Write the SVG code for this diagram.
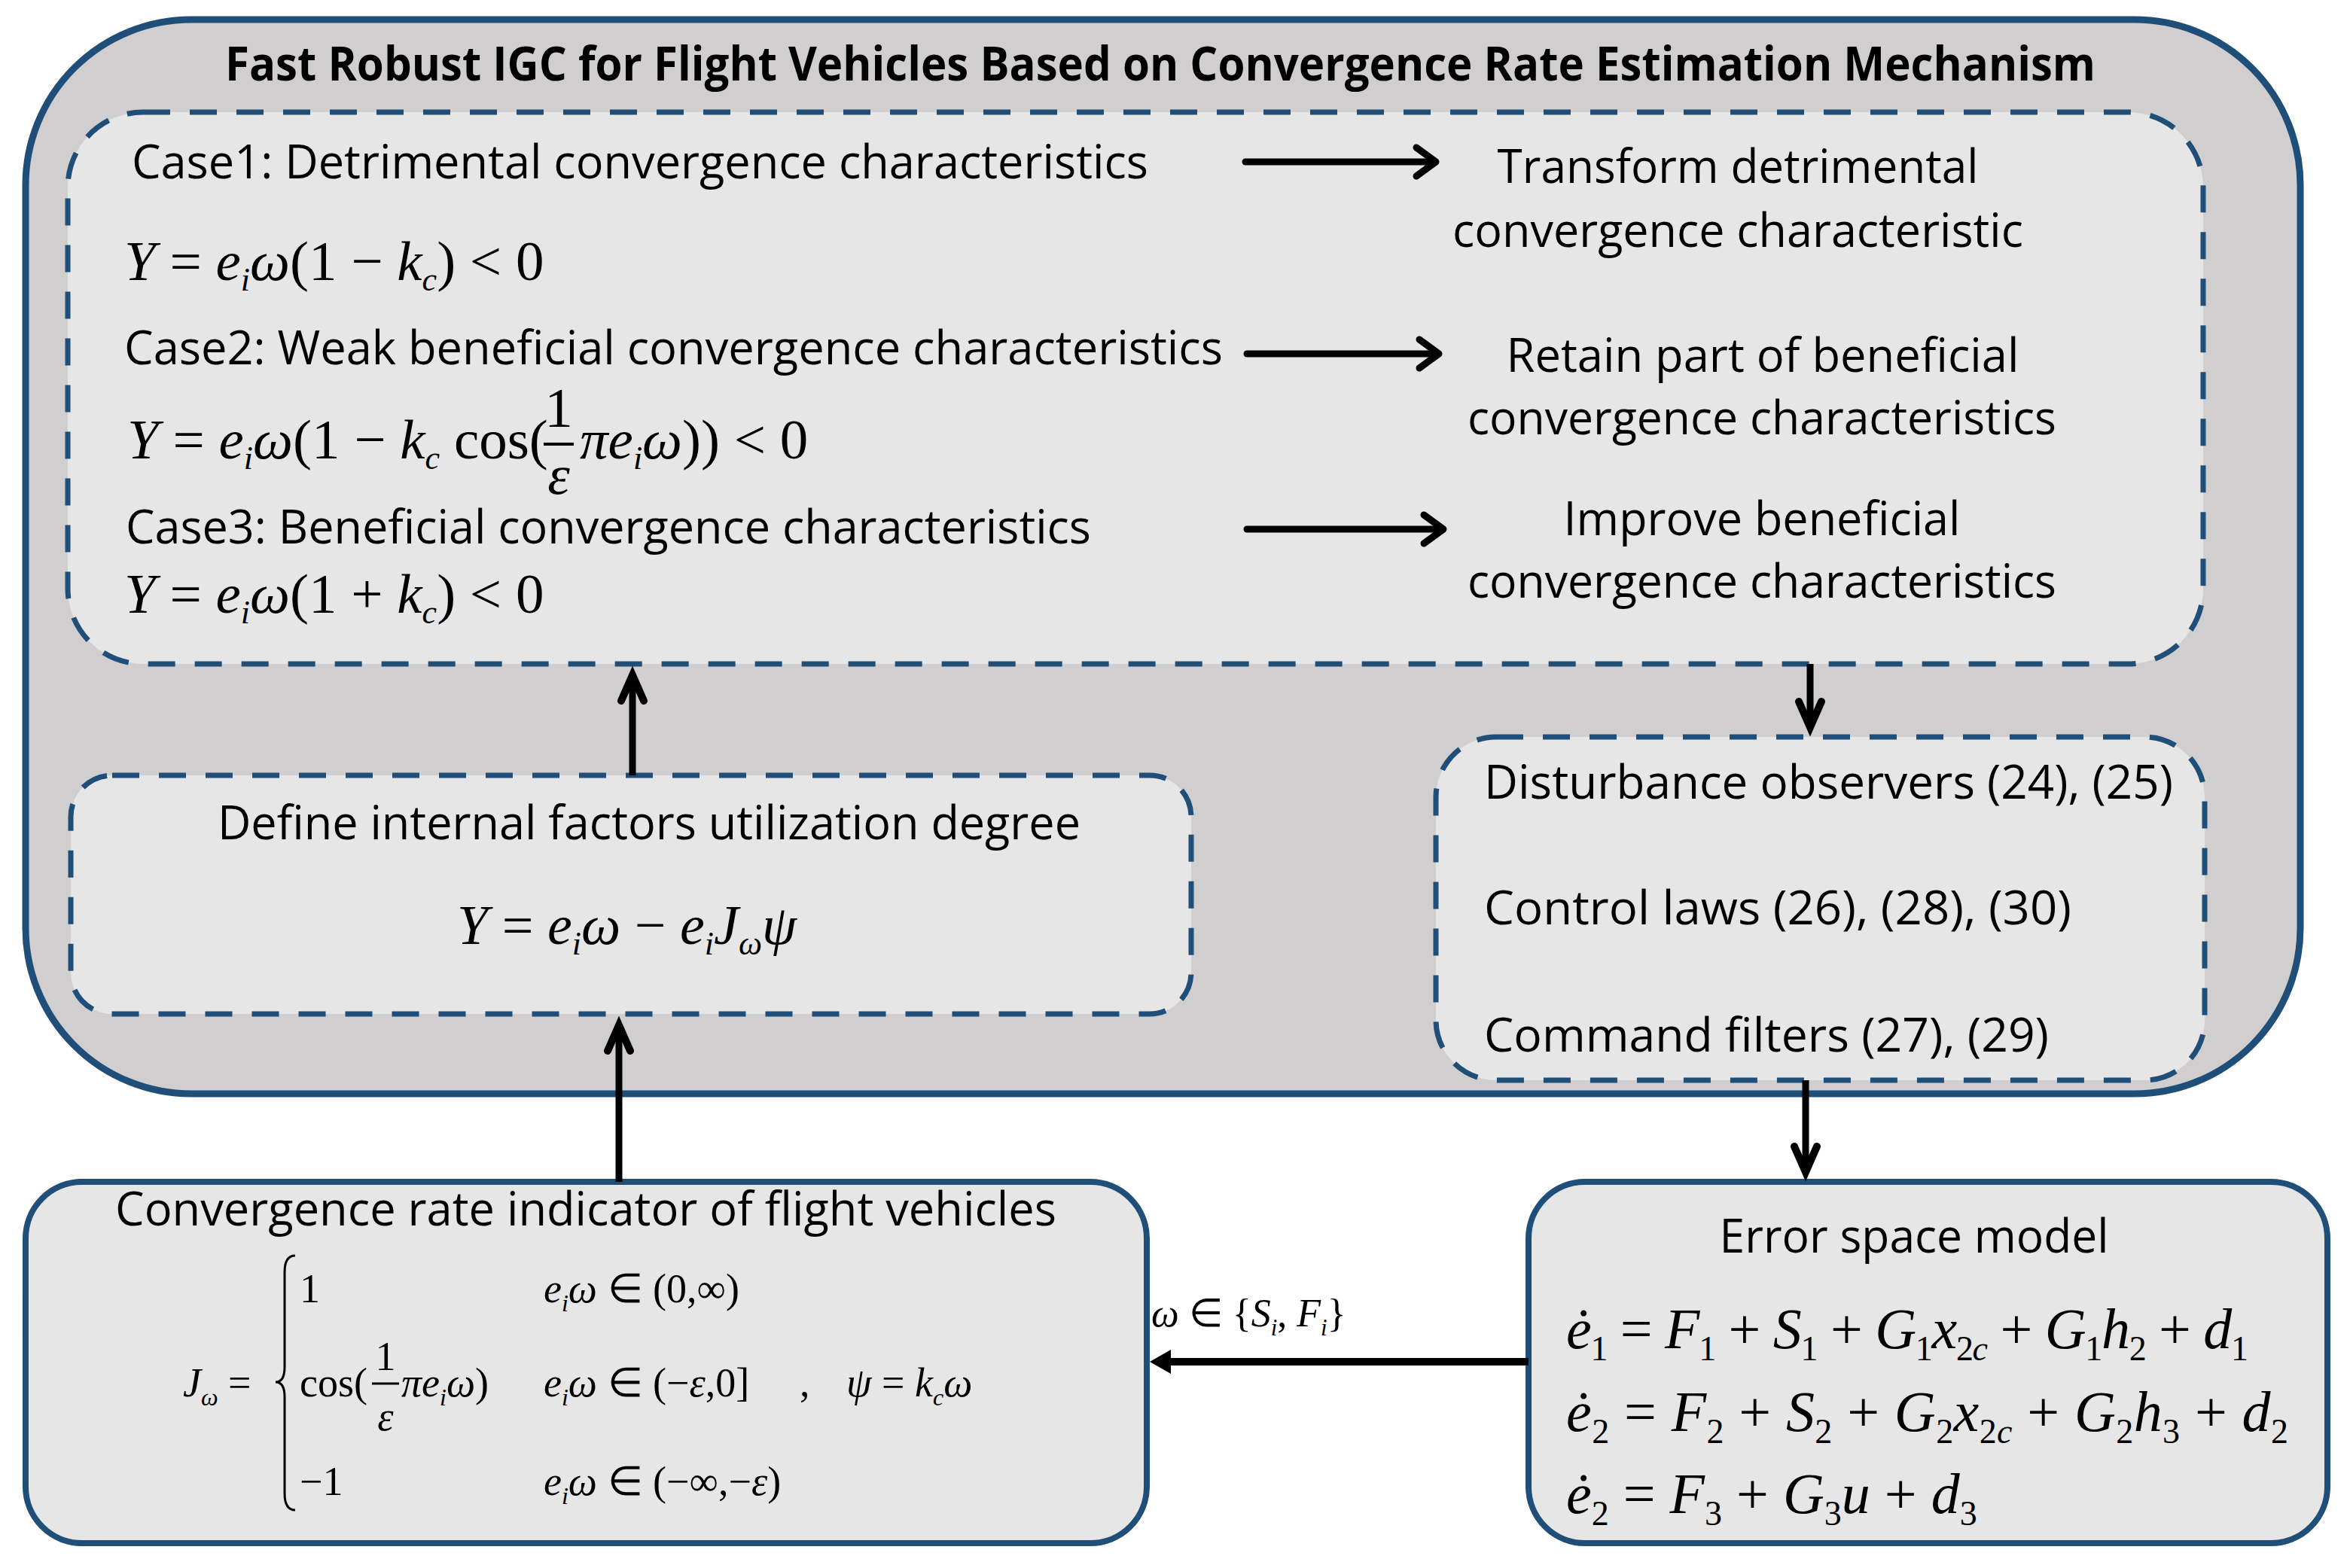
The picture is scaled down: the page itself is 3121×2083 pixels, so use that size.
<svg xmlns="http://www.w3.org/2000/svg" width="3121" height="2083" viewBox="0 0 3121 2083">
<defs>
<style>
.t{font-family:"Open Sans","Liberation Sans",sans-serif;font-size:62px;fill:#000}
.b{font-weight:bold}
.m{font-family:"Liberation Serif","Times New Roman",serif;fill:#000}
.i{font-style:italic}
.dash{fill:#E7E6E6;stroke:#1F4E79;stroke-width:7;stroke-dasharray:36 26}
.solid{fill:#E7E6E6;stroke:#1F4E79;stroke-width:8}
.ln{stroke:#000;stroke-width:9;fill:none}
.chev{stroke:#000;stroke-width:9;fill:none;stroke-linecap:round;stroke-linejoin:round}
</style>
<marker id="st" markerUnits="userSpaceOnUse" viewBox="-50 -30 80 60" refX="0" refY="0" markerWidth="80" markerHeight="60" orient="auto" overflow="visible">
<polyline points="-34,-15 0,0 -34,15" fill="none" stroke="#000" stroke-width="10" stroke-linecap="round" stroke-linejoin="miter" stroke-miterlimit="6"/>
<path d="M0,0 L-22,-8 L-22,8 Z" fill="#000"/>
</marker>
<marker id="tri" markerUnits="userSpaceOnUse" viewBox="-4 -18 34 36" refX="0" refY="0" markerWidth="34" markerHeight="36" orient="auto">
<path d="M28,0 L0,-16 L0,16 Z" fill="#000"/>
</marker>
</defs>
<rect width="3121" height="2083" fill="#fff"/>

<g id="outer">
<rect x="34" y="26" width="3021" height="1427" rx="220" ry="220" fill="#D0CECE" stroke="#1F4E79" stroke-width="9"/>
<text class="t b" x="1541" y="107" text-anchor="middle" textLength="2484" lengthAdjust="spacingAndGlyphs">Fast Robust IGC for Flight Vehicles Based on Convergence Rate Estimation Mechanism</text>
</g>

<g id="cases">
<rect class="dash" x="90" y="149" width="2836" height="733" rx="100" ry="100"/>
<text class="t" x="175" y="237" textLength="1350" lengthAdjust="spacingAndGlyphs">Case1: Detrimental convergence characteristics</text>
<text class="m" x="165" y="372" font-size="75"><tspan class="i">Y</tspan> = <tspan class="i">e</tspan><tspan class="i" font-size="44" dy="14">i</tspan><tspan class="i" dy="-14">ω</tspan>(1 − <tspan class="i">k</tspan><tspan class="i" font-size="44" dy="14">c</tspan><tspan dy="-14">) &lt; 0</tspan></text>
<text class="t" x="165" y="484" textLength="1459" lengthAdjust="spacingAndGlyphs">Case2: Weak beneficial convergence characteristics</text>
<text class="m" x="169" y="609" font-size="75"><tspan class="i">Y</tspan> = <tspan class="i">e</tspan><tspan class="i" font-size="44" dy="14">i</tspan><tspan class="i" dy="-14">ω</tspan>(1 − <tspan class="i">k</tspan><tspan class="i" font-size="44" dy="14">c</tspan><tspan dy="-14"> cos(</tspan></text>
<text class="m" x="742" y="567" font-size="75" text-anchor="middle">1</text>
<line x1="722" y1="590" x2="762" y2="590" stroke="#000" stroke-width="4"/>
<text class="m i" x="742" y="656" font-size="75" text-anchor="middle">ε</text>
<text class="m" x="770" y="609" font-size="75"><tspan class="i">πe</tspan><tspan class="i" font-size="44" dy="14">i</tspan><tspan class="i" dy="-14">ω</tspan>)) &lt; 0</text>
<text class="t" x="167" y="722" textLength="1282" lengthAdjust="spacingAndGlyphs">Case3: Beneficial convergence characteristics</text>
<text class="m" x="165" y="814" font-size="75"><tspan class="i">Y</tspan> = <tspan class="i">e</tspan><tspan class="i" font-size="44" dy="14">i</tspan><tspan class="i" dy="-14">ω</tspan>(1 + <tspan class="i">k</tspan><tspan class="i" font-size="44" dy="14">c</tspan><tspan dy="-14">) &lt; 0</tspan></text>
<text class="t" x="2308" y="243" text-anchor="middle" textLength="639" lengthAdjust="spacingAndGlyphs">Transform detrimental</text>
<text class="t" x="2308" y="328" text-anchor="middle" textLength="758" lengthAdjust="spacingAndGlyphs">convergence characteristic</text>
<text class="t" x="2341" y="494" text-anchor="middle" textLength="681" lengthAdjust="spacingAndGlyphs">Retain part of beneficial</text>
<text class="t" x="2340" y="577" text-anchor="middle" textLength="782" lengthAdjust="spacingAndGlyphs">convergence characteristics</text>
<text class="t" x="2340" y="711" text-anchor="middle" textLength="527" lengthAdjust="spacingAndGlyphs">Improve beneficial</text>
<text class="t" x="2340" y="794" text-anchor="middle" textLength="782" lengthAdjust="spacingAndGlyphs">convergence characteristics</text>
</g>

<g id="define">
<rect class="dash" x="94" y="1030" width="1488" height="317" rx="55" ry="55"/>
<text class="t" x="862" y="1115" text-anchor="middle" textLength="1146" lengthAdjust="spacingAndGlyphs">Define internal factors utilization degree</text>
<text class="m" x="607" y="1254" font-size="74"><tspan class="i">Y</tspan> = <tspan class="i">e</tspan><tspan class="i" font-size="44" dy="14">i</tspan><tspan class="i" dy="-14">ω</tspan> − <tspan class="i">e</tspan><tspan class="i" font-size="44" dy="14">i</tspan><tspan class="i" dy="-14">J</tspan><tspan class="i" font-size="44" dy="14">ω</tspan><tspan class="i" dy="-14">ψ</tspan></text>
</g>

<g id="modules">
<rect class="dash" x="1907" y="979" width="1021" height="456" rx="80" ry="80"/>
<text class="t" x="1971" y="1061" textLength="915" lengthAdjust="spacingAndGlyphs">Disturbance observers (24), (25)</text>
<text class="t" x="1971" y="1228" textLength="780" lengthAdjust="spacingAndGlyphs">Control laws (26), (28), (30)</text>
<text class="t" x="1971" y="1397" textLength="750" lengthAdjust="spacingAndGlyphs">Command filters (27), (29)</text>
</g>

<g id="indicator">
<rect class="solid" x="34" y="1570" width="1489" height="480" rx="75" ry="75"/>
<text class="t" x="778" y="1628" text-anchor="middle" textLength="1250" lengthAdjust="spacingAndGlyphs">Convergence rate indicator of flight vehicles</text>
<text class="m" x="243" y="1855" font-size="54"><tspan class="i">J</tspan><tspan class="i" font-size="32" dy="12">ω</tspan><tspan dy="-12"> =</tspan></text>
<path d="M392,1668 Q378,1668 378,1690 L378,1816 Q378,1836 366,1836 Q378,1836 378,1856 L378,1984 Q378,2006 392,2006" fill="none" stroke="#000" stroke-width="3"/>
<text class="m" x="398" y="1730" font-size="54">1</text>
<text class="m" x="722" y="1730" font-size="54"><tspan class="i">e</tspan><tspan class="i" font-size="32" dy="12">i</tspan><tspan class="i" dy="-12">ω</tspan> ∈ (0,∞)</text>
<text class="m" x="398" y="1855" font-size="54">cos(</text>
<text class="m" x="512" y="1820" font-size="54" text-anchor="middle">1</text>
<line x1="494" y1="1838" x2="530" y2="1838" stroke="#000" stroke-width="3"/>
<text class="m i" x="512" y="1900" font-size="54" text-anchor="middle">ε</text>
<text class="m" x="533" y="1855" font-size="54"><tspan class="i">πe</tspan><tspan class="i" font-size="32" dy="12">i</tspan><tspan class="i" dy="-12">ω</tspan>)</text>
<text class="m" x="722" y="1855" font-size="54"><tspan class="i">e</tspan><tspan class="i" font-size="32" dy="12">i</tspan><tspan class="i" dy="-12">ω</tspan> ∈ (−<tspan class="i">ε</tspan>,0]</text>
<text class="m" x="1062" y="1855" font-size="54">,</text>
<text class="m" x="1124" y="1855" font-size="54"><tspan class="i">ψ</tspan> = <tspan class="i">k</tspan><tspan class="i" font-size="32" dy="12">c</tspan><tspan class="i" dy="-12">ω</tspan></text>
<text class="m" x="398" y="1986" font-size="54">−1</text>
<text class="m" x="722" y="1986" font-size="54"><tspan class="i">e</tspan><tspan class="i" font-size="32" dy="12">i</tspan><tspan class="i" dy="-12">ω</tspan> ∈ (−∞,−<tspan class="i">ε</tspan>)</text>
</g>

<g id="errormodel">
<rect class="solid" x="2030" y="1570" width="1061" height="480" rx="75" ry="75"/>
<text class="t" x="2542" y="1664" text-anchor="middle" textLength="517" lengthAdjust="spacingAndGlyphs">Error space model</text>
<text class="m" x="2080" y="1791" font-size="76" textLength="906" lengthAdjust="spacing"><tspan class="i">ė</tspan><tspan font-size="46" dy="16">1</tspan><tspan dy="-16"> = </tspan><tspan class="i">F</tspan><tspan font-size="46" dy="16">1</tspan><tspan dy="-16"> + </tspan><tspan class="i">S</tspan><tspan font-size="46" dy="16">1</tspan><tspan dy="-16"> + </tspan><tspan class="i">G</tspan><tspan font-size="46" dy="16">1</tspan><tspan class="i" dy="-16">x</tspan><tspan font-size="46" dy="16">2</tspan><tspan class="i" font-size="46">c</tspan><tspan dy="-16"> + </tspan><tspan class="i">G</tspan><tspan font-size="46" dy="16">1</tspan><tspan class="i" dy="-16">h</tspan><tspan font-size="46" dy="16">2</tspan><tspan dy="-16"> + </tspan><tspan class="i">d</tspan><tspan font-size="46" dy="16">1</tspan></text>
<text class="m" x="2080" y="1901" font-size="76" textLength="959" lengthAdjust="spacing"><tspan class="i">ė</tspan><tspan font-size="46" dy="16">2</tspan><tspan dy="-16"> = </tspan><tspan class="i">F</tspan><tspan font-size="46" dy="16">2</tspan><tspan dy="-16"> + </tspan><tspan class="i">S</tspan><tspan font-size="46" dy="16">2</tspan><tspan dy="-16"> + </tspan><tspan class="i">G</tspan><tspan font-size="46" dy="16">2</tspan><tspan class="i" dy="-16">x</tspan><tspan font-size="46" dy="16">2</tspan><tspan class="i" font-size="46">c</tspan><tspan dy="-16"> + </tspan><tspan class="i">G</tspan><tspan font-size="46" dy="16">2</tspan><tspan class="i" dy="-16">h</tspan><tspan font-size="46" dy="16">3</tspan><tspan dy="-16"> + </tspan><tspan class="i">d</tspan><tspan font-size="46" dy="16">2</tspan></text>
<text class="m" x="2080" y="2010" font-size="76"><tspan class="i">ė</tspan><tspan font-size="46" dy="16">2</tspan><tspan dy="-16"> = </tspan><tspan class="i">F</tspan><tspan font-size="46" dy="16">3</tspan><tspan dy="-16"> + </tspan><tspan class="i">G</tspan><tspan font-size="46" dy="16">3</tspan><tspan class="i" dy="-16">u</tspan><tspan dy="0"> + </tspan><tspan class="i">d</tspan><tspan font-size="46" dy="16">3</tspan></text>
</g>

<g id="connectors">
<line class="ln" x1="840" y1="1030" x2="840" y2="897" marker-end="url(#st)"/>
<line class="ln" x1="2404" y1="882" x2="2404" y2="966" marker-end="url(#st)"/>
<line class="ln" x1="2398" y1="1435" x2="2398" y2="1557" marker-end="url(#st)"/>
<line class="ln" x1="822" y1="1570" x2="822" y2="1362" marker-end="url(#st)"/>
<line x1="2030" y1="1809" x2="1555" y2="1809" stroke="#000" stroke-width="10" marker-end="url(#tri)"/>
<text class="m" x="1529" y="1762" font-size="52"><tspan class="i">ω</tspan> ∈ {<tspan class="i">S</tspan><tspan class="i" font-size="31" dy="12">i</tspan><tspan dy="-12">, </tspan><tspan class="i">F</tspan><tspan class="i" font-size="31" dy="12">i</tspan><tspan dy="-12">}</tspan></text>
<line class="chev" x1="1654" y1="215" x2="1905" y2="215"/>
<polyline class="chev" points="1881,196 1907,215 1881,234"/>
<line class="chev" x1="1656" y1="470" x2="1909" y2="470"/>
<polyline class="chev" points="1885,451 1911,470 1885,489"/>
<line class="chev" x1="1656" y1="703" x2="1915" y2="703"/>
<polyline class="chev" points="1891,684 1917,703 1891,722"/>
</g>
</svg>
